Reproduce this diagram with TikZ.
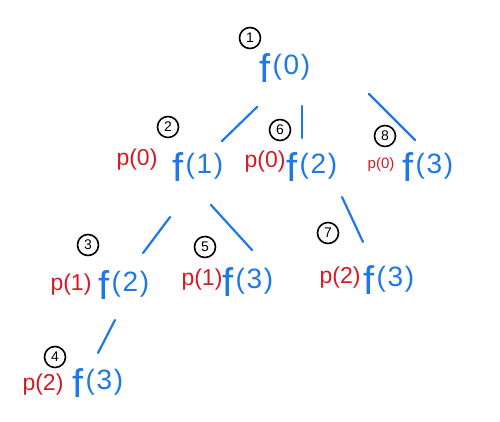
\documentclass[tikz,border=0pt]{standalone}
\usepackage{fontspec}
\setmainfont{Liberation Sans}
\newfontfamily\handf[LetterSpace=6]{Liberation Sans}
\usetikzlibrary{calc}
\definecolor{hblue}{RGB}{30,120,230}
\definecolor{hred}{RGB}{215,25,35}
\newcommand{\fx}[1]{\raisebox{-6pt}{\fontsize{40}{40}\selectfont f}\,\raisebox{2pt}{\handf\fontsize{28}{28}\selectfont(#1)}}
\tikzset{
  fnode/.style={text=hblue, inner sep=0pt},
  pnode/.style={text=hred, inner sep=0pt, font=\fontsize{23}{23}\selectfont},
  psmall/.style={text=hred, inner sep=0pt, font=\fontsize{15}{15}\selectfont},
  num/.style={circle, draw=black, line width=1.6pt, inner sep=0pt, minimum size=21pt, font=\fontsize{14}{14}\selectfont},
  edge/.style={draw=hblue, line width=2.2pt, line cap=round}
}
\begin{document}
\begin{tikzpicture}[x=1pt,y=-1pt]
\useasboundingbox (0,0) rectangle (500,422);
% row 1
\node[fnode] (f0) at (285,68) {\fx{0}};
\node[num] (n1) at (250,38) {1};
% row 2
\node[pnode] (p1) at (137,160) {p(0)};
\node[fnode] (f1) at (198,167) {\fx{1}};
\node[num] (n2) at (168,127) {2};
\node[pnode] (p2) at (265,162) {p(0)};
\node[fnode] (g2) at (312,167) {\fx{2}};
\node[num] (n6) at (280,130) {6};
\node[psmall] (p3) at (381,165) {p(0)};
\node[fnode] (h3) at (428,167) {\fx{3}};
\node[num] (n8) at (385,136) {8};
% row 3
\node[pnode] (p4) at (71,285) {p(1)};
\node[fnode] (a2) at (124,285) {\fx{2}};
\node[num] (n3) at (88,245) {3};
\node[pnode] (p5) at (202,280) {p(1)};
\node[fnode] (b3) at (248,282) {\fx{3}};
\node[num] (n5) at (205,247) {5};
\node[pnode] (p6) at (340,278) {p(2)};
\node[fnode] (c3) at (389,280) {\fx{3}};
\node[num] (n7) at (328,233) {7};
% row 4
\node[pnode] (p7) at (43,385) {p(2)};
\node[fnode] (d3) at (98,383) {\fx{3}};
\node[num] (n4) at (55,357) {4};
% connectors
\draw[edge] ($(f0)+(-28,39)$) -- ($(f1)+(24,-26)$);
\draw[edge] ($(f0)+(17,38)$) -- ($(g2)+(-10,-29)$);
\draw[edge] ($(f0)+(84,26)$) -- ($(h3)+(-13,-27)$);
\draw[edge] ($(f1)+(-28,50)$) -- ($(a2)+(19,-32)$);
\draw[edge] ($(f1)+(13,38)$) -- ($(b3)+(4,-32)$);
\draw[edge] ($(g2)+(30,30)$) -- ($(c3)+(-26,-38)$);
\draw[edge] ($(a2)+(-9,35)$) -- ($(d3)+(0,-30)$);
\end{tikzpicture}
\end{document}
